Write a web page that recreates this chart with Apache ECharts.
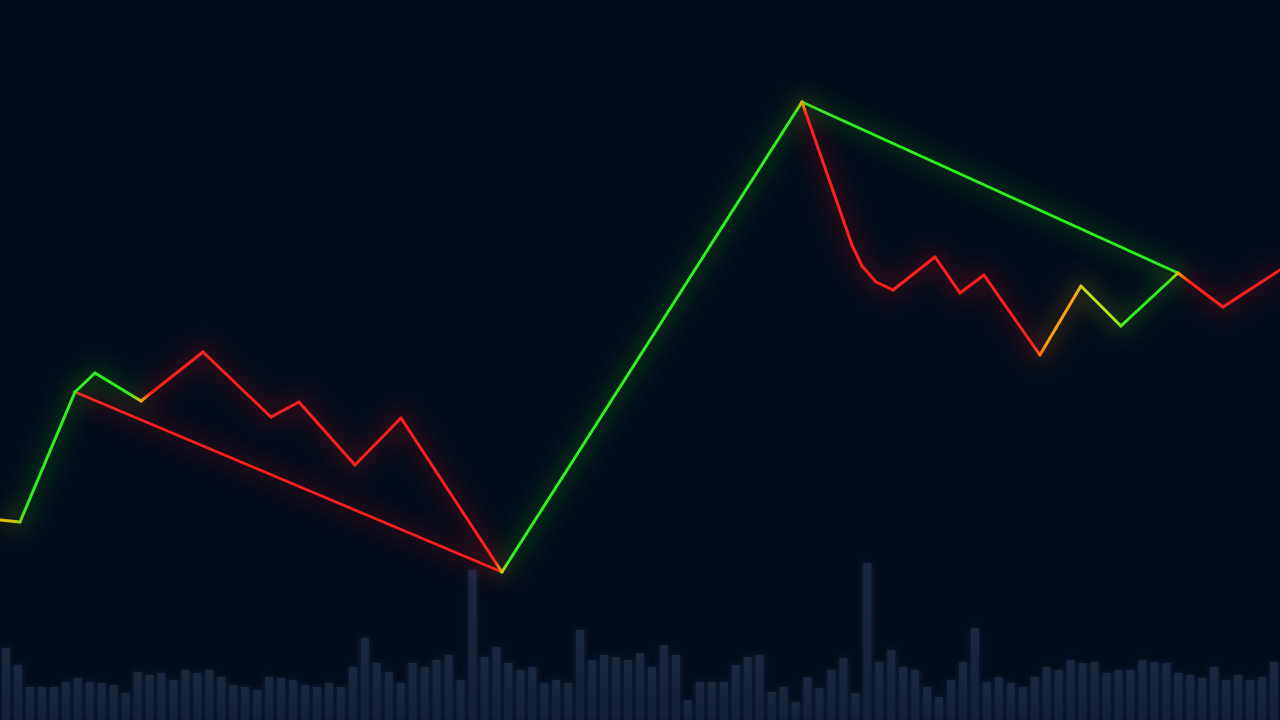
<!DOCTYPE html>
<html><head><meta charset="utf-8">
<script src="https://cdn.jsdelivr.net/npm/echarts@6/dist/echarts.min.js"></script>
<style>html,body{margin:0;padding:0;background:#020b19;overflow:hidden}#c{width:1280px;height:720px}</style>
</head><body><div id="c"></div>
<script>
// ---- data ----
const priceT = [0, 1.67, 6.27, 7.94, 11.79, 16.97, 22.65, 24.99, 29.67, 33.52, 41.96, 67.04, 71.22, 72.06, 73.23, 74.65, 78.16, 80.25, 82.25, 86.93, 90.36, 93.70, 98.47, 102.23, 107.0];
const priceP = [120.0, 119.8, 132.8, 134.7, 131.9, 136.8, 130.3, 131.8, 125.5, 130.2, 114.8, 161.8, 147.5, 145.4, 143.8, 143.0, 146.3, 142.7, 144.5, 136.5, 143.4, 139.4, 144.7, 141.3, 145.0];
const segColors = ['gold','green','green','green','red','red','red','red','red','red','green','red','red','red','red','red','red','red','red','amber','lime','green','red','red'];
const trendRedT = [6.27, 41.96];
const trendRedP = [132.8, 114.8];
const trendGreenT = [67.04, 98.47];
const trendGreenP = [161.8, 144.7];
const volume = [72,55,33,33,33,38,42,38,37,35,27,48,45,47,40,50,47,50,43,35,33,30,43,42,40,35,33,37,33,53,82,57,48,37,57,53,60,65,40,150,63,73,57,50,53,37,40,37,90,60,65,63,60,
  67,53,75,65,20,38,38,38,55,63,65,28,33,18,43,32,50,62,27,157,58,70,53,50,33,23,40,58,92,38,43,37,33,43,53,50,60,57,58,47,50,50,60,58,57,47,45,42,53,40,45,40,43,58];

const COLORS = {green:'#2cf21e', red:'#ff1e1e', amber:'#ffa010', gold:'#e6bc00', lime:'#b8e41a'};
const X_MAX = 107, Y_MIN = 100, Y_MAX = 172;

function rgb(h){h=h.replace('#','');return [parseInt(h.substr(0,2),16),parseInt(h.substr(2,2),16),parseInt(h.substr(4,2),16)];}
function hex(a){return '#'+a.map(v=>Math.round(v).toString(16).padStart(2,'0')).join('');}
function blend(a,b){
  const s=[a,b].sort().join('-');
  if(s==='green-red') return '#f0c800';
  if(s==='amber-red') return '#ff6210';
  const A=rgb(COLORS[a]),B=rgb(COLORS[b]);
  return hex(A.map((v,i)=>(v+B[i])/2));
}

const W = 1280, H = 720;
const pxX = W / X_MAX, pxY = H / (Y_MAX - Y_MIN);

const series = [];
series.push({
  type:'bar', xAxisIndex:1, yAxisIndex:1, barWidth:8, z:1, silent:true,
  data: volume.map((v,i)=>[i+0.5, v]),
  itemStyle:{
    color:new echarts.graphic.LinearGradient(0,0,0,1,[{offset:0,color:'#19273f'},{offset:1,color:'#121f36'}]),
    shadowBlur:6, shadowColor:'rgba(22,36,62,0.9)'
  }
});

function lineSeries(data, color, width, blur, shadow){
  return {type:'line', xAxisIndex:0, yAxisIndex:0, data, symbol:'none', z:3, silent:true,
    lineStyle:{width, color, shadowBlur:blur, shadowColor:shadow, cap:'round', join:'round'}};
}
series.push(lineSeries(trendRedT.map((t,i)=>[t,trendRedP[i]]), COLORS.red, 2.8, 24, 'rgba(255,30,30,1)'));
series.push(lineSeries(trendGreenT.map((t,i)=>[t,trendGreenP[i]]), COLORS.green, 2.8, 24, 'rgba(44,242,30,1)'));

for(let i=0;i<priceT.length-1;i++){
  const name = segColors[i], c = COLORS[name];
  const startC = (i>0 && segColors[i-1]!==name) ? blend(segColors[i-1],name) : c;
  const endC = (i<segColors.length-1 && segColors[i+1]!==name) ? blend(name,segColors[i+1]) : c;
  const dx=(priceT[i+1]-priceT[i])*pxX, dy=(priceP[i+1]-priceP[i])*pxY;
  const len=Math.sqrt(dx*dx+dy*dy);
  const f=Math.min(0.45, 16/len);
  const y0 = priceP[i] > priceP[i+1] ? 0 : 1;
  const grad = new echarts.graphic.LinearGradient(0, y0, 1, 1-y0, [
    {offset:0,color:startC},{offset:f,color:c},{offset:1-f,color:c},{offset:1,color:endC}]);
  const sc = rgb(c);
  series.push(lineSeries([[priceT[i],priceP[i]],[priceT[i+1],priceP[i+1]]], grad, 3, 24, `rgba(${sc[0]},${sc[1]},${sc[2]},1)`));
}

const chart = echarts.init(document.getElementById('c'), null, {renderer:'canvas'});
chart.setOption({
  backgroundColor:'#020b19',
  animation:false,
  grid:[{left:0,right:0,top:0,bottom:0},{left:0,right:0,bottom:0,height:160}],
  xAxis:[{type:'value',min:0,max:X_MAX,show:false,gridIndex:0},{type:'value',min:0,max:X_MAX,show:false,gridIndex:1}],
  yAxis:[{type:'value',min:Y_MIN,max:Y_MAX,show:false,gridIndex:0},{type:'value',min:0,max:160,show:false,gridIndex:1}],
  series
});
</script></body></html>
